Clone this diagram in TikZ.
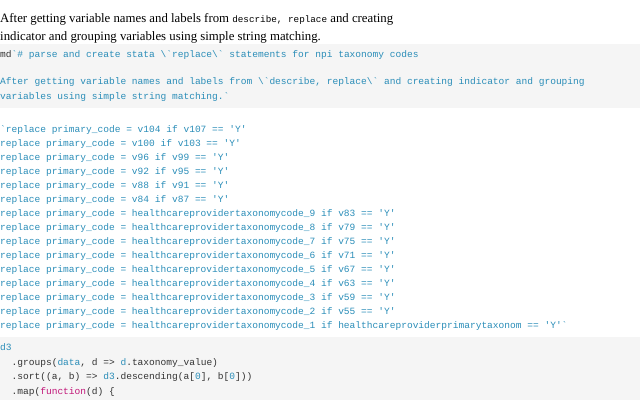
\documentclass[tikz,border=0pt]{standalone}
\usepackage{fontspec}
\setmainfont{Liberation Serif}
\newfontfamily\codefont{Liberation Mono}
\definecolor{cblue}{HTML}{2A8DB8}
\definecolor{cgrey}{HTML}{F5F5F5}
\definecolor{cdark}{HTML}{333333}
\definecolor{cmag}{HTML}{C2187A}
\tikzset{
 code/.style={anchor=base west,inner sep=0pt,font=\codefont\fontsize{9.55}{11}\selectfont,text=cblue},
 dcode/.style={code,text=cdark},
 prose/.style={anchor=base west,inner sep=0pt,font=\fontsize{12.8}{15}\selectfont,text=black}
}
\newcommand{\bq}{\char`\`}
\begin{document}
\begin{tikzpicture}[x=1pt,y=-1pt]
\useasboundingbox (0,0) rectangle (640,400);
\fill[cgrey] (0,44) rectangle (640,108);
\fill[cgrey] (0,337) rectangle (640,400);
\node[prose] (p1) at (0,22) {After getting variable names and labels from {\codefont\fontsize{9.3}{11}\selectfont describe, replace} and creating};
\node[prose] (p2) at (0,40) {indicator and grouping variables using simple string matching.};
\node[code] (m1) at (0,57) {\textcolor{cdark}{md}\bq\# parse and create stata \textbackslash\bq replace\textbackslash\bq{} statements for npi taxonomy codes};
\node[code] (m2) at (0,84) {After getting variable names and labels from \textbackslash\bq describe, replace\textbackslash\bq{} and creating indicator and grouping};
\node[code] (m3) at (0,99) {variables using simple string matching.\bq};
\foreach \i/\t in {
0/{\bq replace primary\_code = v104 if v107 == 'Y'},
1/{replace primary\_code = v100 if v103 == 'Y'},
2/{replace primary\_code = v96 if v99 == 'Y'},
3/{replace primary\_code = v92 if v95 == 'Y'},
4/{replace primary\_code = v88 if v91 == 'Y'},
5/{replace primary\_code = v84 if v87 == 'Y'},
6/{replace primary\_code = healthcareprovidertaxonomycode\_9 if v83 == 'Y'},
7/{replace primary\_code = healthcareprovidertaxonomycode\_8 if v79 == 'Y'},
8/{replace primary\_code = healthcareprovidertaxonomycode\_7 if v75 == 'Y'},
9/{replace primary\_code = healthcareprovidertaxonomycode\_6 if v71 == 'Y'},
10/{replace primary\_code = healthcareprovidertaxonomycode\_5 if v67 == 'Y'},
11/{replace primary\_code = healthcareprovidertaxonomycode\_4 if v63 == 'Y'},
12/{replace primary\_code = healthcareprovidertaxonomycode\_3 if v59 == 'Y'},
13/{replace primary\_code = healthcareprovidertaxonomycode\_2 if v55 == 'Y'},
14/{replace primary\_code = healthcareprovidertaxonomycode\_1 if healthcareproviderprimarytaxonom == 'Y'\bq}}
  \node[code] (r\i) at (0,132.5+14*\i) {\t};
\node[code] (d0) at (0,350.5) {d3};
\node[dcode] (d1) at (0,365) {\ \ .groups(\textcolor{cblue}{data}, d => \textcolor{cblue}{d}.taxonomy\_value)};
\node[dcode] (d2) at (0,379.5) {\ \ .sort((a, b) => \textcolor{cblue}{d3}.descending(a[\textcolor{cblue}{0}], b[\textcolor{cblue}{0}]))};
\node[dcode] (d3) at (0,394) {\ \ .map(\textcolor{cmag}{function}(d) \{};
\end{tikzpicture}
\end{document}
